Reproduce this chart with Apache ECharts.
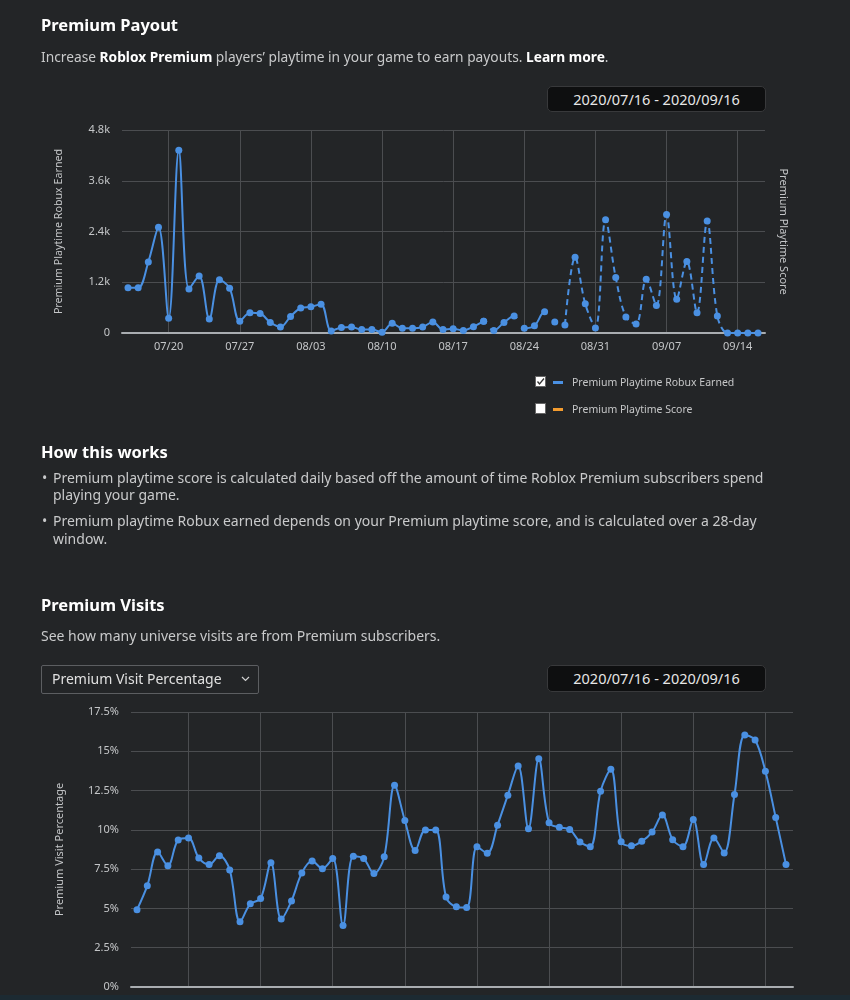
<!DOCTYPE html>
<html>
<head>
<meta charset="utf-8">
<script src="https://cdn.jsdelivr.net/npm/echarts@6/dist/echarts.min.js"></script>
<style>
  html, body { margin: 0; padding: 0; background: #232527; }
  body { width: 850px; height: 1000px; position: relative; overflow: hidden;
         font-family: "Noto Sans", sans-serif; color: #c9cacb; }
  #chart { position: absolute; left: 0; top: 0; width: 850px; height: 1000px; z-index: 0; }
  .t { position: absolute; white-space: nowrap; line-height: 20px; z-index: 1; }
  .h { font-size: 16.5px; font-weight: 700; color: #fff; }
  .p { font-size: 14px; }
  .p b { color: #fff; font-weight: 700; }
  .datebox { position: absolute; left: 547px; width: 217px; background: #0e0f10; z-index: 1;
             border: 1px solid #38393b; border-radius: 5px; color: #e6e6e6;
             font-size: 14.5px; text-align: center; }
  .drop { position: absolute; left: 41px; top: 665px; width: 216px; height: 27px; z-index: 1;
          border: 1px solid #5c5e61; border-radius: 2px; color: #e0e0e0; font-size: 14px; }
  .leg { position: absolute; font-size: 10.5px; color: #c6c7c8; line-height: 14px; z-index: 1; }
  .cb { position: absolute; width: 9px; height: 9px; background: #fff; border: 1px solid #666; z-index: 1; }
  .dash { position: absolute; width: 10px; height: 3px; z-index: 1; }
  #strip { position: absolute; left: 0; top: 995px; width: 850px; height: 5px; background: #1c2a32; z-index: 2; }
</style>
</head>
<body>
<div id="chart"></div>

<div class="t h" style="left:41px; top:15px;">Premium Payout</div>
<div class="t p" style="left:41px; top:47px; font-size:13.75px;">Increase <b>Roblox Premium</b> players’ playtime in your game to earn payouts. <b>Learn more</b>.</div>
<div class="datebox" style="top:86px; height:24px; line-height:24px;">2020/07/16 - 2020/09/16</div>

<div class="cb" style="left:535px; top:376px;">
  <svg width="9" height="9" style="position:absolute;left:0;top:0"><polyline points="1.5,4.5 3.5,7 8,1.5" fill="none" stroke="#333" stroke-width="1.3"/></svg>
</div>
<div class="dash" style="left:553px; top:381px; background:#4a90e2;"></div>
<div class="leg" style="left:572px; top:375px;">Premium Playtime Robux Earned</div>
<div class="cb" style="left:535px; top:403px;"></div>
<div class="dash" style="left:553px; top:408px; background:#f39c2f;"></div>
<div class="leg" style="left:572px; top:402px;">Premium Playtime Score</div>

<div class="t h" style="left:41px; top:442px;">How this works</div>
<div class="t p" style="left:42px; top:468px;">•</div>
<div class="t p" style="left:53px; top:468px;">Premium playtime score is calculated daily based off the amount of time Roblox Premium subscribers spend</div>
<div class="t p" style="left:53px; top:485px;">playing your game.</div>
<div class="t p" style="left:42px; top:511px;">•</div>
<div class="t p" style="left:53px; top:511px;">Premium playtime Robux earned depends on your Premium playtime score, and is calculated over a 28-day</div>
<div class="t p" style="left:53px; top:529px;">window.</div>

<div class="t h" style="left:41px; top:595px;">Premium Visits</div>
<div class="t p" style="left:41px; top:626px;">See how many universe visits are from Premium subscribers.</div>
<div class="drop">
  <span style="position:absolute; left:10px; top:3px; line-height:20px;">Premium Visit Percentage</span>
  <svg width="9" height="6" style="position:absolute; left:199px; top:10px;"><polyline points="1,1 4.5,4.5 8,1" fill="none" stroke="#d0d0d0" stroke-width="1.2"/></svg>
</div>
<div class="datebox" style="top:665px; height:25px; line-height:25px;">2020/07/16 - 2020/09/16</div>
<div id="strip"></div>

<script>
// Premium Payout: daily robux earned, 07/16 - 09/16
const payoutDates = [
  '07/16','07/17','07/18','07/19','07/20','07/21','07/22','07/23','07/24','07/25','07/26',
  '07/27','07/28','07/29','07/30','07/31','08/01','08/02','08/03','08/04','08/05','08/06',
  '08/07','08/08','08/09','08/10','08/11','08/12','08/13','08/14','08/15','08/16','08/17',
  '08/18','08/19','08/20','08/21','08/22','08/23','08/24','08/25','08/26','08/27','08/28',
  '08/29','08/30','08/31','09/01','09/02','09/03','09/04','09/05','09/06','09/07','09/08',
  '09/09','09/10','09/11','09/12','09/13','09/14','09/15','09/16'
];
const payoutRobux = [
  1070, 1070, 1680, 2500, 350, 4320, 1040, 1350, 330, 1260, 1060,
  280, 480, 460, 250, 140, 390, 590, 620, 680, 50, 130,
  140, 80, 80, 20, 230, 110, 110, 140, 260, 80, 100,
  60, 150, 280, 60, 250, 400, 110, 170, 500, 260, 190,
  1790, 690, 120, 2680, 1310, 380, 210, 1270, 650, 2800, 800,
  1690, 480, 2650, 400, 0, 0, 0, 0
];
const payoutTicks = [0, 1200, 2400, 3600, 4800];
// where the line style changes (index of first point of each segment)
const longDashFrom = 35;
const dashFrom = 43;

// Premium Visits: percentage of visits from premium subscribers
const visitDates = [
  '07/15','07/16','07/17','07/18','07/19','07/20','07/21','07/22','07/23','07/24','07/25',
  '07/26','07/27','07/28','07/29','07/30','07/31','08/01','08/02','08/03','08/04','08/05',
  '08/06','08/07','08/08','08/09','08/10','08/11','08/12','08/13','08/14','08/15','08/16',
  '08/17','08/18','08/19','08/20','08/21','08/22','08/23','08/24','08/25','08/26','08/27',
  '08/28','08/29','08/30','08/31','09/01','09/02','09/03','09/04','09/05','09/06','09/07',
  '09/08','09/09','09/10','09/11','09/12','09/13','09/14','09/15','09/16'
];
const visitPct = [
  4.91, 6.45, 8.59, 7.72, 9.35, 9.48, 8.21, 7.79, 8.36, 7.45, 4.15,
  5.29, 5.63, 7.91, 4.32, 5.48, 7.26, 8.02, 7.53, 8.17, 3.91, 8.32,
  8.17, 7.22, 8.29, 12.84, 10.60, 8.68, 9.99, 9.99, 5.73, 5.10, 5.06,
  8.93, 8.51, 10.30, 12.21, 14.07, 10.07, 14.52, 10.45, 10.16, 10.03, 9.23,
  8.93, 12.46, 13.86, 9.25, 8.99, 9.27, 9.86, 10.94, 9.37, 8.93, 10.66,
  7.79, 9.48, 8.53, 12.25, 16.04, 15.72, 13.73, 10.79, 7.79
];
const visitTicks = [0, 2.5, 5, 7.5, 10, 12.5, 15, 17.5];

const BLUE = '#4a90e2';
const GRID = '#4b4d50';
const LABEL = '#c4c6c8';
const FONT = '"Noto Sans", sans-serif';

const chart = echarts.init(document.getElementById('chart'), null, { renderer: 'canvas' });

function slice(arr, from, to) {
  return arr.map((v, i) => (i >= from && i <= to ? v : null));
}

function lineSeries(data, xi, yi, dash) {
  return {
    type: 'line',
    xAxisIndex: xi,
    yAxisIndex: yi,
    data: data,
    smooth: 0.35,
    symbol: 'circle',
    symbolSize: 7,
    showAllSymbol: true,
    connectNulls: false,
    lineStyle: { color: BLUE, width: 2, type: dash || 'solid', dashOffset: dash && dash[0] > 20 ? dash[0] : 0 },
    itemStyle: { color: BLUE },
    silent: true,
    animation: false
  };
}

const weekly = (start) => (i) => (i - start) % 7 === 0;

// fixed grids: v6 would otherwise shrink them to keep labels inside the canvas
const fixedGrid = (g) => Object.assign({ outerBoundsMode: 'none', containLabel: false }, g);

chart.setOption({
  animation: false,
  textStyle: { fontFamily: FONT },
  grid: [
    fixedGrid({ left: 122, top: 130, width: 643, height: 203 }),   // payout frame
    fixedGrid({ left: 128, top: 130, width: 630, height: 203 }),   // payout data
    fixedGrid({ left: 131, top: 712, width: 662, height: 275 }),   // visits frame
    fixedGrid({ left: 137, top: 712, width: 649, height: 275 })    // visits data
  ],
  xAxis: [
    { gridIndex: 0, type: 'value', min: 0, max: 1, axisLabel: { show: false },
      axisTick: { show: false }, splitLine: { show: false },
      axisLine: { lineStyle: { color: '#a9adb1', width: 2 } } },
    { gridIndex: 1, type: 'category', data: payoutDates, boundaryGap: false,
      axisLine: { show: false }, axisTick: { show: false },
      axisLabel: { interval: weekly(4), color: LABEL, fontSize: 11, margin: 8 },
      splitLine: { show: true, interval: weekly(4), lineStyle: { color: GRID, width: 1 } } },
    { gridIndex: 2, type: 'value', min: 0, max: 1, axisLabel: { show: false },
      axisTick: { show: false }, splitLine: { show: false },
      axisLine: { lineStyle: { color: '#a9adb1', width: 2 } } },
    { gridIndex: 3, type: 'category', data: visitDates, boundaryGap: false,
      axisLine: { show: false }, axisTick: { show: false },
      axisLabel: { interval: weekly(5), color: LABEL, fontSize: 11, margin: 9 },
      splitLine: { show: true, interval: weekly(5), lineStyle: { color: GRID, width: 1 } } }
  ],
  yAxis: [
    { gridIndex: 0, type: 'value', min: payoutTicks[0], max: payoutTicks[payoutTicks.length - 1],
      interval: payoutTicks[1] - payoutTicks[0],
      name: 'Premium Playtime Robux Earned', nameLocation: 'middle', nameGap: 58,
      nameTextStyle: { color: LABEL, fontSize: 10.7 },
      axisLine: { show: false }, axisTick: { show: false },
      axisLabel: { color: LABEL, fontSize: 11, margin: 12,
        formatter: (v) => (v === 0 ? '0' : (v / 1000).toFixed(1) + 'k') },
      splitLine: { lineStyle: { color: GRID, width: 1 } } },
    { gridIndex: 0, type: 'value', position: 'right', min: 0, max: 4800,
      name: 'Premium Playtime Score', nameLocation: 'middle', nameRotate: -90, nameGap: 13,
      nameTextStyle: { color: LABEL, fontSize: 11 },
      axisLine: { show: false }, axisTick: { show: false }, axisLabel: { show: false },
      splitLine: { show: false } },
    { gridIndex: 1, type: 'value', min: 0, max: 4800, show: false },
    { gridIndex: 2, type: 'value', min: visitTicks[0], max: visitTicks[visitTicks.length - 1],
      interval: visitTicks[1] - visitTicks[0],
      name: 'Premium Visit Percentage', nameLocation: 'middle', nameGap: 66,
      nameTextStyle: { color: LABEL, fontSize: 11 },
      axisLine: { show: false }, axisTick: { show: false },
      axisLabel: { color: LABEL, fontSize: 11, margin: 12, formatter: (v) => v + '%' },
      splitLine: { lineStyle: { color: GRID, width: 1 } } },
    { gridIndex: 3, type: 'value', min: 0, max: 17.5, show: false }
  ],
  series: [
    lineSeries(slice(payoutRobux, 0, longDashFrom), 1, 2),
    lineSeries(slice(payoutRobux, longDashFrom, dashFrom - 1), 1, 2, [33, 10]),
    lineSeries(slice(payoutRobux, dashFrom, payoutRobux.length - 1), 1, 2, [6, 4]),
    lineSeries(visitPct, 3, 4)
  ]
});
</script>
</body>
</html>
